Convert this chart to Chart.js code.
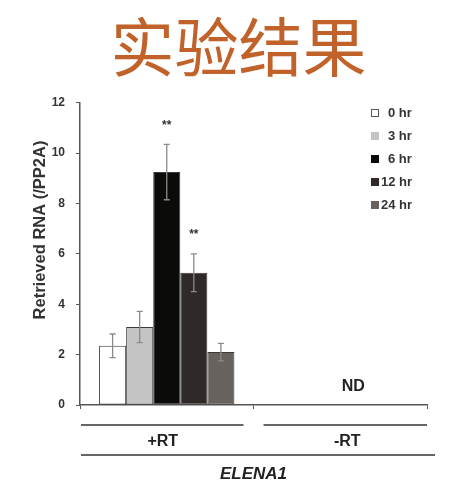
<!DOCTYPE html>
<html>
<head>
<meta charset="utf-8">
<script src="https://cdn.jsdelivr.net/npm/chart.js@4/dist/chart.umd.min.js"></script>
<style>
  html, body { margin: 0; padding: 0; background: #fff; }
  #wrap { width: 474px; height: 499px; }
</style>
</head>
<body>
<div id="wrap"><canvas id="chart"></canvas></div>
<script>
const groups = ['+RT', '-RT'];
const timepoints = ['0 hr', '3 hr', '6 hr', '12 hr', '24 hr'];
const values = [2.35, 3.1, 9.25, 5.25, 2.1];     // +RT only, -RT not detected
const errors = [0.47, 0.62, 1.1, 0.75, 0.35];
const stars = ['', '', '**', '**', ''];
const fills = ['#ffffff', '#c4c4c4', '#0b0b09', '#2f2a27', '#67625e'];
const yTicks = [0, 2, 4, 6, 8, 10, 12];
const yTitle = 'Retrieved RNA (/PP2A)';
const geneName = 'ELENA1';
const notDetected = 'ND';

const txt = '#333333';
const boldFont = (size, style) => (style || '') + ' bold ' + size + 'px "Liberation Sans", Arial, sans-serif';

const datasets = timepoints.map((t, i) => ({
    label: t,
    data: [values[i], null],
    backgroundColor: fills[i],
    borderColor: '#3a3a3a',
    borderWidth: 1,
    borderSkipped: false,
    barPercentage: 1,
    categoryPercentage: 0.78
}));

// error bars, stars, legend, ND, axis title and bracket labels
const extras = {
    id: 'extras',
    afterDatasetsDraw(chart) {
        const ctx = chart.ctx;
        const x = chart.scales.x;
        const y = chart.scales.y;
        ctx.save();

        chart.data.datasets.forEach((ds, i) => {
            const bar = chart.getDatasetMeta(i).data[0];
            const v = ds.data[0];
            const top = y.getPixelForValue(v + errors[i]);
            const bot = y.getPixelForValue(v - errors[i]);
            ctx.strokeStyle = '#8a8a8a';
            ctx.lineWidth = 1.3;
            ctx.beginPath();
            ctx.moveTo(bar.x, top); ctx.lineTo(bar.x, bot);
            ctx.moveTo(bar.x - 3, top); ctx.lineTo(bar.x + 3, top);
            ctx.moveTo(bar.x - 3, bot); ctx.lineTo(bar.x + 3, bot);
            ctx.stroke();
            if (stars[i]) {
                ctx.fillStyle = txt;
                ctx.font = boldFont(12);
                ctx.textAlign = 'center';
                ctx.textBaseline = 'middle';
                ctx.fillText(stars[i], bar.x, top - 19);
            }
        });

        // legend
        const lx = 375, ly = 113, step = 23;
        chart.data.datasets.forEach((ds, i) => {
            const cy = ly + i * step;
            ctx.fillStyle = ds.backgroundColor;
            ctx.strokeStyle = i === 0 ? '#555' : ds.backgroundColor;
            ctx.lineWidth = 1;
            ctx.fillRect(lx - 3.5, cy - 3.5, 7, 7);
            ctx.strokeRect(lx - 3.5, cy - 3.5, 7, 7);
            ctx.fillStyle = txt;
            ctx.font = boldFont(13);
            ctx.textAlign = 'left';
            ctx.textBaseline = 'middle';
            const lab = ds.label;
            ctx.fillText(lab, lab.length > 4 ? lx + 6 : lx + 13, cy);
        });

        // y axis title
        ctx.save();
        ctx.translate(40, 230);
        ctx.rotate(-Math.PI / 2);
        ctx.fillStyle = txt;
        ctx.font = boldFont(16.5);
        ctx.textAlign = 'center';
        ctx.textBaseline = 'middle';
        ctx.fillText(yTitle, 0, 0);
        ctx.restore();

        // ND in -RT group
        ctx.fillStyle = '#222';
        ctx.font = boldFont(16);
        ctx.textAlign = 'center';
        ctx.textBaseline = 'middle';
        ctx.fillText(notDetected, x.getPixelForValue(1) + 13, y.getPixelForValue(0) - 18);

        // group brackets
        const half = (x.getPixelForValue(1) - x.getPixelForValue(0)) / 2;
        const lineY = y.bottom + 20, labY = lineY + 17, geneY = lineY + 30;
        ctx.strokeStyle = '#333';
        ctx.lineWidth = 1.5;
        groups.forEach((g, i) => {
            const cx = x.getPixelForValue(i);
            const l = cx - half + (i === 0 ? 1 : 10);
            const r = cx + half - (i === 0 ? 10 : 0);
            ctx.beginPath(); ctx.moveTo(l, lineY); ctx.lineTo(r, lineY); ctx.stroke();
            ctx.fillStyle = '#222';
            ctx.font = boldFont(16);
            ctx.fillText(g, cx + (i === 0 ? -4 : 7), labY);
        });
        ctx.beginPath();
        ctx.moveTo(x.left + 1, geneY); ctx.lineTo(x.right + 8, geneY); ctx.stroke();
        ctx.font = boldFont(17, 'italic');
        ctx.fillText(geneName, (x.left + x.right) / 2, geneY + 19);

        ctx.restore();
    }
};

new Chart(document.getElementById('chart'), {
    type: 'bar',
    data: { labels: groups, datasets: datasets },
    plugins: [extras],
    options: {
        responsive: true,
        maintainAspectRatio: false,
        animation: false,
        layout: { padding: { left: 50, right: 47, bottom: 90 } },
        plugins: {
            legend: { display: false },
            tooltip: { enabled: false },
            title: {
                display: true,
                text: '实验结果',
                color: '#c0622a',
                font: { size: 64, family: '"Noto Sans CJK SC", sans-serif', weight: 'normal' },
                padding: { top: 8, bottom: 18 }
            }
        },
        scales: {
            x: {
                grid: { offset: true, drawOnChartArea: false, drawTicks: true, tickLength: 4, color: '#555' },
                border: { color: '#555', width: 1.5 },
                ticks: { display: false }
            },
            y: {
                min: 0,
                max: 12,
                afterBuildTicks: s => { s.ticks = yTicks.map(v => ({ value: v })); },
                afterFit: s => { s.width = 30; },
                grid: { drawOnChartArea: false, drawTicks: true, tickLength: 4, color: '#555' },
                border: { color: '#555', width: 1.5 },
                ticks: { color: txt, font: { size: 12, weight: 'bold', family: '"Liberation Sans", Arial, sans-serif' }, padding: 11 }
            }
        }
    }
});
</script>
</body>
</html>
